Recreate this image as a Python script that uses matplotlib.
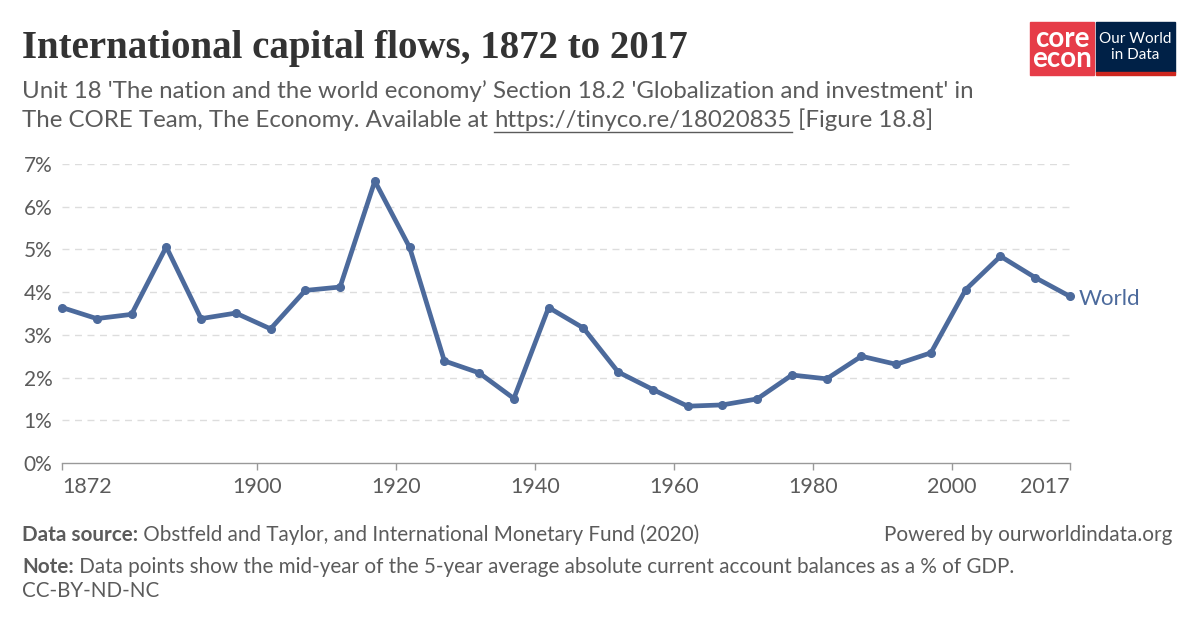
import matplotlib
matplotlib.use('Agg')
import matplotlib.pyplot as plt
from matplotlib.patches import Rectangle

# Data (mid-year of 5-year averages)
years = [1872, 1877, 1882, 1887, 1892, 1897, 1902, 1907, 1912, 1917,
         1922, 1927, 1932, 1937, 1942, 1947, 1952, 1957, 1962, 1967,
         1972, 1977, 1982, 1987, 1992, 1997, 2002, 2007, 2012, 2017]
world = [3.64, 3.38, 3.48, 5.06, 3.38, 3.51, 3.14, 4.04, 4.12, 6.60,
         5.05, 2.39, 2.11, 1.51, 3.64, 3.16, 2.13, 1.72, 1.33, 1.36,
         1.50, 2.06, 1.97, 2.50, 2.31, 2.58, 4.06, 4.84, 4.34, 3.90]
xticks = [1872, 1900, 1920, 1940, 1960, 1980, 2000, 2017]
yticks = [0, 1, 2, 3, 4, 5, 6, 7]

LINE = '#4c6a9c'
GREY = '#5b5b5b'
plt.rcParams['font.family'] = ['Lato', 'DejaVu Sans']

fig = plt.figure(figsize=(12, 6.27), dpi=100)
ax = fig.add_axes([62/1200, 1-463/627, 1008/1200, 299/627])

ax.plot(years, world, color=LINE, lw=3.4, marker='o', ms=5.5,
        solid_joinstyle='round', solid_capstyle='round', clip_on=False, zorder=3)
ax.annotate('World', (years[-1], world[-1]), xytext=(6, -2),
            textcoords='offset points', color=LINE, fontsize=16,
            va='center', ha='left', annotation_clip=False)

ax.set_xlim(1872, 2017)
ax.set_ylim(0, 7)
ax.set_xticks(xticks)
ax.set_xticklabels([str(t) for t in xticks])
ax.set_yticks(yticks)
ax.set_yticklabels([f'{t}%' for t in yticks])
for s in ['top', 'right', 'left']:
    ax.spines[s].set_visible(False)
ax.spines['bottom'].set_color('#999999')
ax.spines['bottom'].set_linewidth(1)
ax.tick_params(axis='x', colors='#999999', labelcolor=GREY, labelsize=15.5,
               length=5, width=1, pad=5)
ax.tick_params(axis='y', length=0, labelcolor=GREY, labelsize=15, pad=7)
xl = ax.get_xticklabels()
xl[0].set_ha('left')
xl[-1].set_ha('right')
for t in yticks[1:]:
    ax.axhline(t, color='#dddddd', lw=1, ls=(0, (5, 4)), zorder=1)

# Titles
fig.text(22/1200, 1-58/627, 'International capital flows, 1872 to 2017',
         family=['Liberation Serif', 'DejaVu Serif'], fontsize=28,
         weight='bold', color='#333333')
SUB = 17.3
fig.text(22/1200, 1-98/627,
         "Unit 18 'The nation and the world economy\u2019 Section 18.2 'Globalization and investment' in",
         fontsize=SUB, color=GREY)
t1 = fig.text(22/1200, 1-127/627, 'The CORE Team, The Economy. Available at ',
              fontsize=SUB, color=GREY)

fig.canvas.draw()
r = fig.canvas.get_renderer()

def after(t, s, **kw):
    bb = t.get_window_extent(r)
    x0, y0 = t.get_position()
    return fig.text(bb.x1/1200, y0, s, **kw)

url = after(t1, 'https://tinyco.re/18020835', fontsize=SUB, color=GREY)
bb = url.get_window_extent(r)
fig.add_artist(plt.Line2D([bb.x0/1200, bb.x1/1200], [(bb.y0 - 1)/627]*2,
                          color=GREY, lw=1))
after(url, ' [Figure 18.8]', fontsize=SUB, color=GREY)

# Footer
FT = 14.9
d = fig.text(22/1200, 1-541/627, 'Data source:', fontsize=FT, color=GREY,
             weight='bold')
after(d, ' Obstfeld and Taylor, and International Monetary Fund (2020)',
      fontsize=FT, color=GREY)
fig.text(1172/1200, 1-541/627, 'Powered by ourworldindata.org',
         fontsize=FT, color=GREY, ha='right')
n = fig.text(22/1200, 1-573/627, 'Note:', fontsize=FT, color=GREY, weight='bold')
after(n, ' Data points show the mid-year of the 5-year average absolute current account balances as a % of GDP.',
      fontsize=FT, color=GREY)
fig.text(22/1200, 1-597/627, 'CC-BY-ND-NC', fontsize=FT, color=GREY)

# Logos
fig.add_artist(Rectangle((1030/1200, 1-75/627), 64/1200, 53/627,
                         transform=fig.transFigure, color='#e63c48'))
fig.add_artist(Rectangle((1096/1200, 1-72/627), 79/1200, 50/627,
                         transform=fig.transFigure, color='#002147'))
fig.add_artist(Rectangle((1096/1200, 1-75/627), 79/1200, 3/627,
                         transform=fig.transFigure, color='#ce261e'))
fig.text(1062/1200, 1-49/627, 'core\necon', ha='center', va='center',
         fontsize=20, weight='bold', color='white', linespacing=0.75)
fig.text(1135.5/1200, 1-47/627, 'Our World\nin Data', ha='center', va='center',
         fontsize=11, color='white', linespacing=1.1)

fig.savefig('out.png', dpi=100)
